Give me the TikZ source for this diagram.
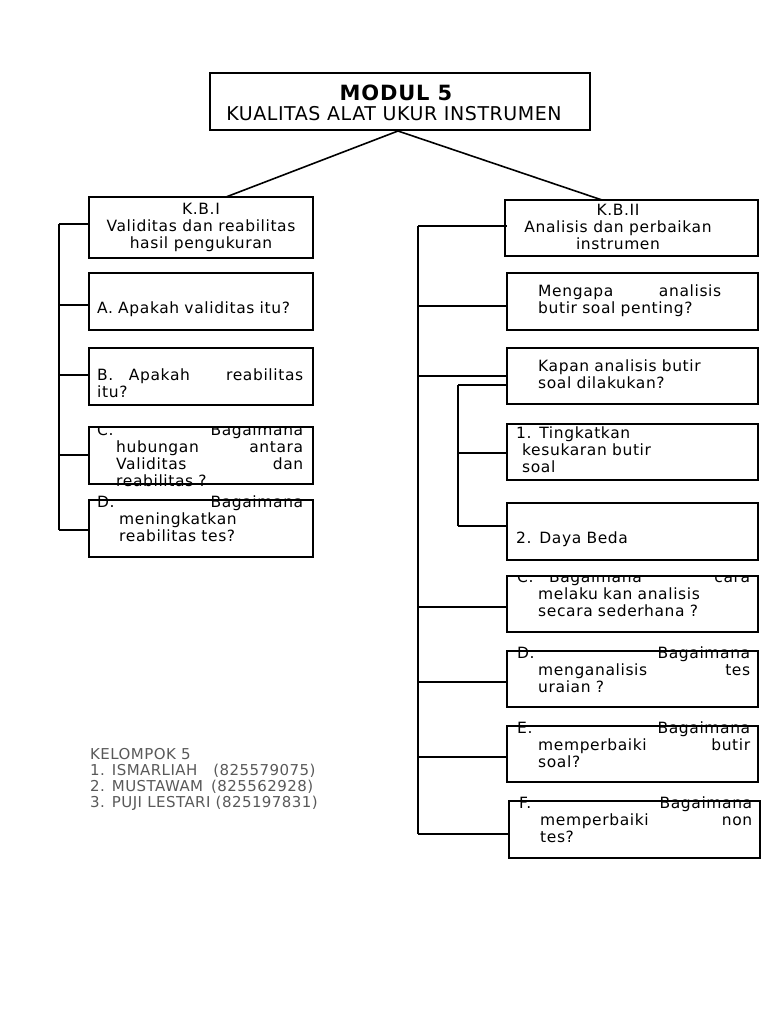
\documentclass[tikz,border=0pt]{standalone}
\usepackage{fontspec}
\setmainfont{DejaVu Sans}
\newcommand{\JL}[2]{\makebox[\linewidth][s]{#1\hfill #2}}
\begin{document}
\begin{tikzpicture}[x=1pt,y=-1pt,
  bx/.style={draw,line width=1.6pt},
  ln/.style={line width=1.6pt},
  tx/.style={anchor=north west,inner sep=0pt,align=left,font=\fontsize{15.5}{17}\selectfont\addfontfeature{LetterSpace=4}},
  ct/.style={inner sep=0pt,align=center,font=\fontsize{15.5}{17}\selectfont\addfontfeature{LetterSpace=4}}]
\useasboundingbox (0,0) rectangle (768,1024);
% title
\draw[bx] (210,73) rectangle (590,130);
\node[inner sep=0pt,font=\fontsize{21}{22}\selectfont\bfseries\addfontfeature{LetterSpace=4}] (t1) at (396,93) {MODUL 5};
\node[inner sep=0pt,font=\fontsize{19}{19}\selectfont\addfontfeature{LetterSpace=3}] (t2) at (394,114) {KUALITAS ALAT UKUR INSTRUMEN};
\coordinate (tb) at (398,131);
\coordinate (k1t) at (226,197);
\coordinate (k2t) at (602,200);
\draw[ln] (tb) -- (k1t);
\draw[ln] (tb) -- (k2t);
% left boxes
\draw[bx] (89,197) rectangle (313,258);
\draw[bx] (89,273) rectangle (313,330);
\draw[bx] (89,348) rectangle (313,405);
\draw[bx] (89,427) rectangle (313,484);
\draw[bx] (89,500) rectangle (313,557);
\node[ct] (k1) at (201,227) {K.B.I\\Validitas dan reabilitas\\hasil pengukuran};
\node[tx,text width=206pt] (a) at (97,302) {A. Apakah validitas itu?};
\node[tx,text width=206pt] (b) at (97,369) {\JL{B.\quad Apakah}{reabilitas}\\itu?};
\begin{scope}
\clip (89,427) rectangle (313,494);
\node[tx,text width=206pt] (c) at (97,424) {\JL{C.}{Bagaimana}\\\hspace*{19pt}\makebox[187pt][s]{hubungan\hfill antara}\\\hspace*{19pt}\makebox[187pt][s]{Validitas\hfill dan}\\\hspace*{19pt}reabilitas ?};
\end{scope}
\node[tx,text width=206pt] (d) at (97,496) {\JL{D.}{Bagaimana}\\\hspace*{22pt}meningkatkan\\\hspace*{22pt}reabilitas tes?};
\draw[ln] (59,224) -- (59,530);
\foreach \y in {224,305,375,455,530} \draw[ln] (59,\y) -- (89,\y);
% right boxes
\draw[bx] (505,200) rectangle (758,256);
\draw[bx] (507,273) rectangle (758,330);
\draw[bx] (507,348) rectangle (758,404);
\draw[bx] (507,424) rectangle (758,480);
\draw[bx] (507,503) rectangle (758,560);
\draw[bx] (507,576) rectangle (758,632);
\draw[bx] (507,651) rectangle (758,707);
\draw[bx] (507,726) rectangle (758,782);
\draw[bx] (509,801) rectangle (760,858);
\node[ct] (k2) at (618,227) {K.B.II\\Analisis dan perbaikan\\instrumen};
\node[tx,text width=183pt] (m) at (538,285) {\JL{Mengapa}{analisis}\\butir soal penting?};
\node[tx,text width=200pt] (kp) at (538,360) {Kapan analisis butir\\soal dilakukan?};
\node[tx,text width=220pt] (n1) at (516,427) {1. Tingkatkan\\\hspace*{6pt}kesukaran butir\\\hspace*{6pt}soal};
\node[tx,text width=200pt] (n2) at (516,532) {2. Daya Beda};
\begin{scope}
\clip (507,576) rectangle (758,632);
\node[tx,text width=233pt] (rc) at (517,571) {\JL{C.\quad Bagaimana}{cara}\\\hspace*{21pt}\makebox[212pt][s]{melaku kan analisis}\\\hspace*{21pt}secara sederhana ?};
\end{scope}
\node[tx,text width=233pt] (rd) at (517,647) {\JL{D.}{Bagaimana}\\\hspace*{21pt}\makebox[212pt][s]{menganalisis\hfill tes}\\\hspace*{21pt}uraian ?};
\node[tx,text width=233pt] (re) at (517,722) {\JL{E.}{Bagaimana}\\\hspace*{21pt}\makebox[212pt][s]{memperbaiki\hfill butir}\\\hspace*{21pt}soal?};
\node[tx,text width=233pt] (rf) at (519,797) {\JL{F.}{Bagaimana}\\\hspace*{21pt}\makebox[212pt][s]{memperbaiki\hfill non}\\\hspace*{21pt}tes?};
\draw[ln] (418,226) -- (418,834);
\foreach \y in {226,306,376,607,682,757} \draw[ln] (418,\y) -- (507,\y);
\draw[ln] (418,834) -- (509,834);
\draw[ln] (458,385) -- (458,526);
\foreach \y in {385,453,526} \draw[ln] (458,\y) -- (507,\y);
% group
\node[tx,text=black!65,font=\fontsize{15}{16}\selectfont\addfontfeature{LetterSpace=3}] (g) at (90,748)
{KELOMPOK 5\\1. ISMARLIAH\hspace*{16pt}(825579075)\\2. MUSTAWAM\hspace*{8pt}(825562928)\\3. PUJI LESTARI (825197831)};
\end{tikzpicture}
\end{document}
